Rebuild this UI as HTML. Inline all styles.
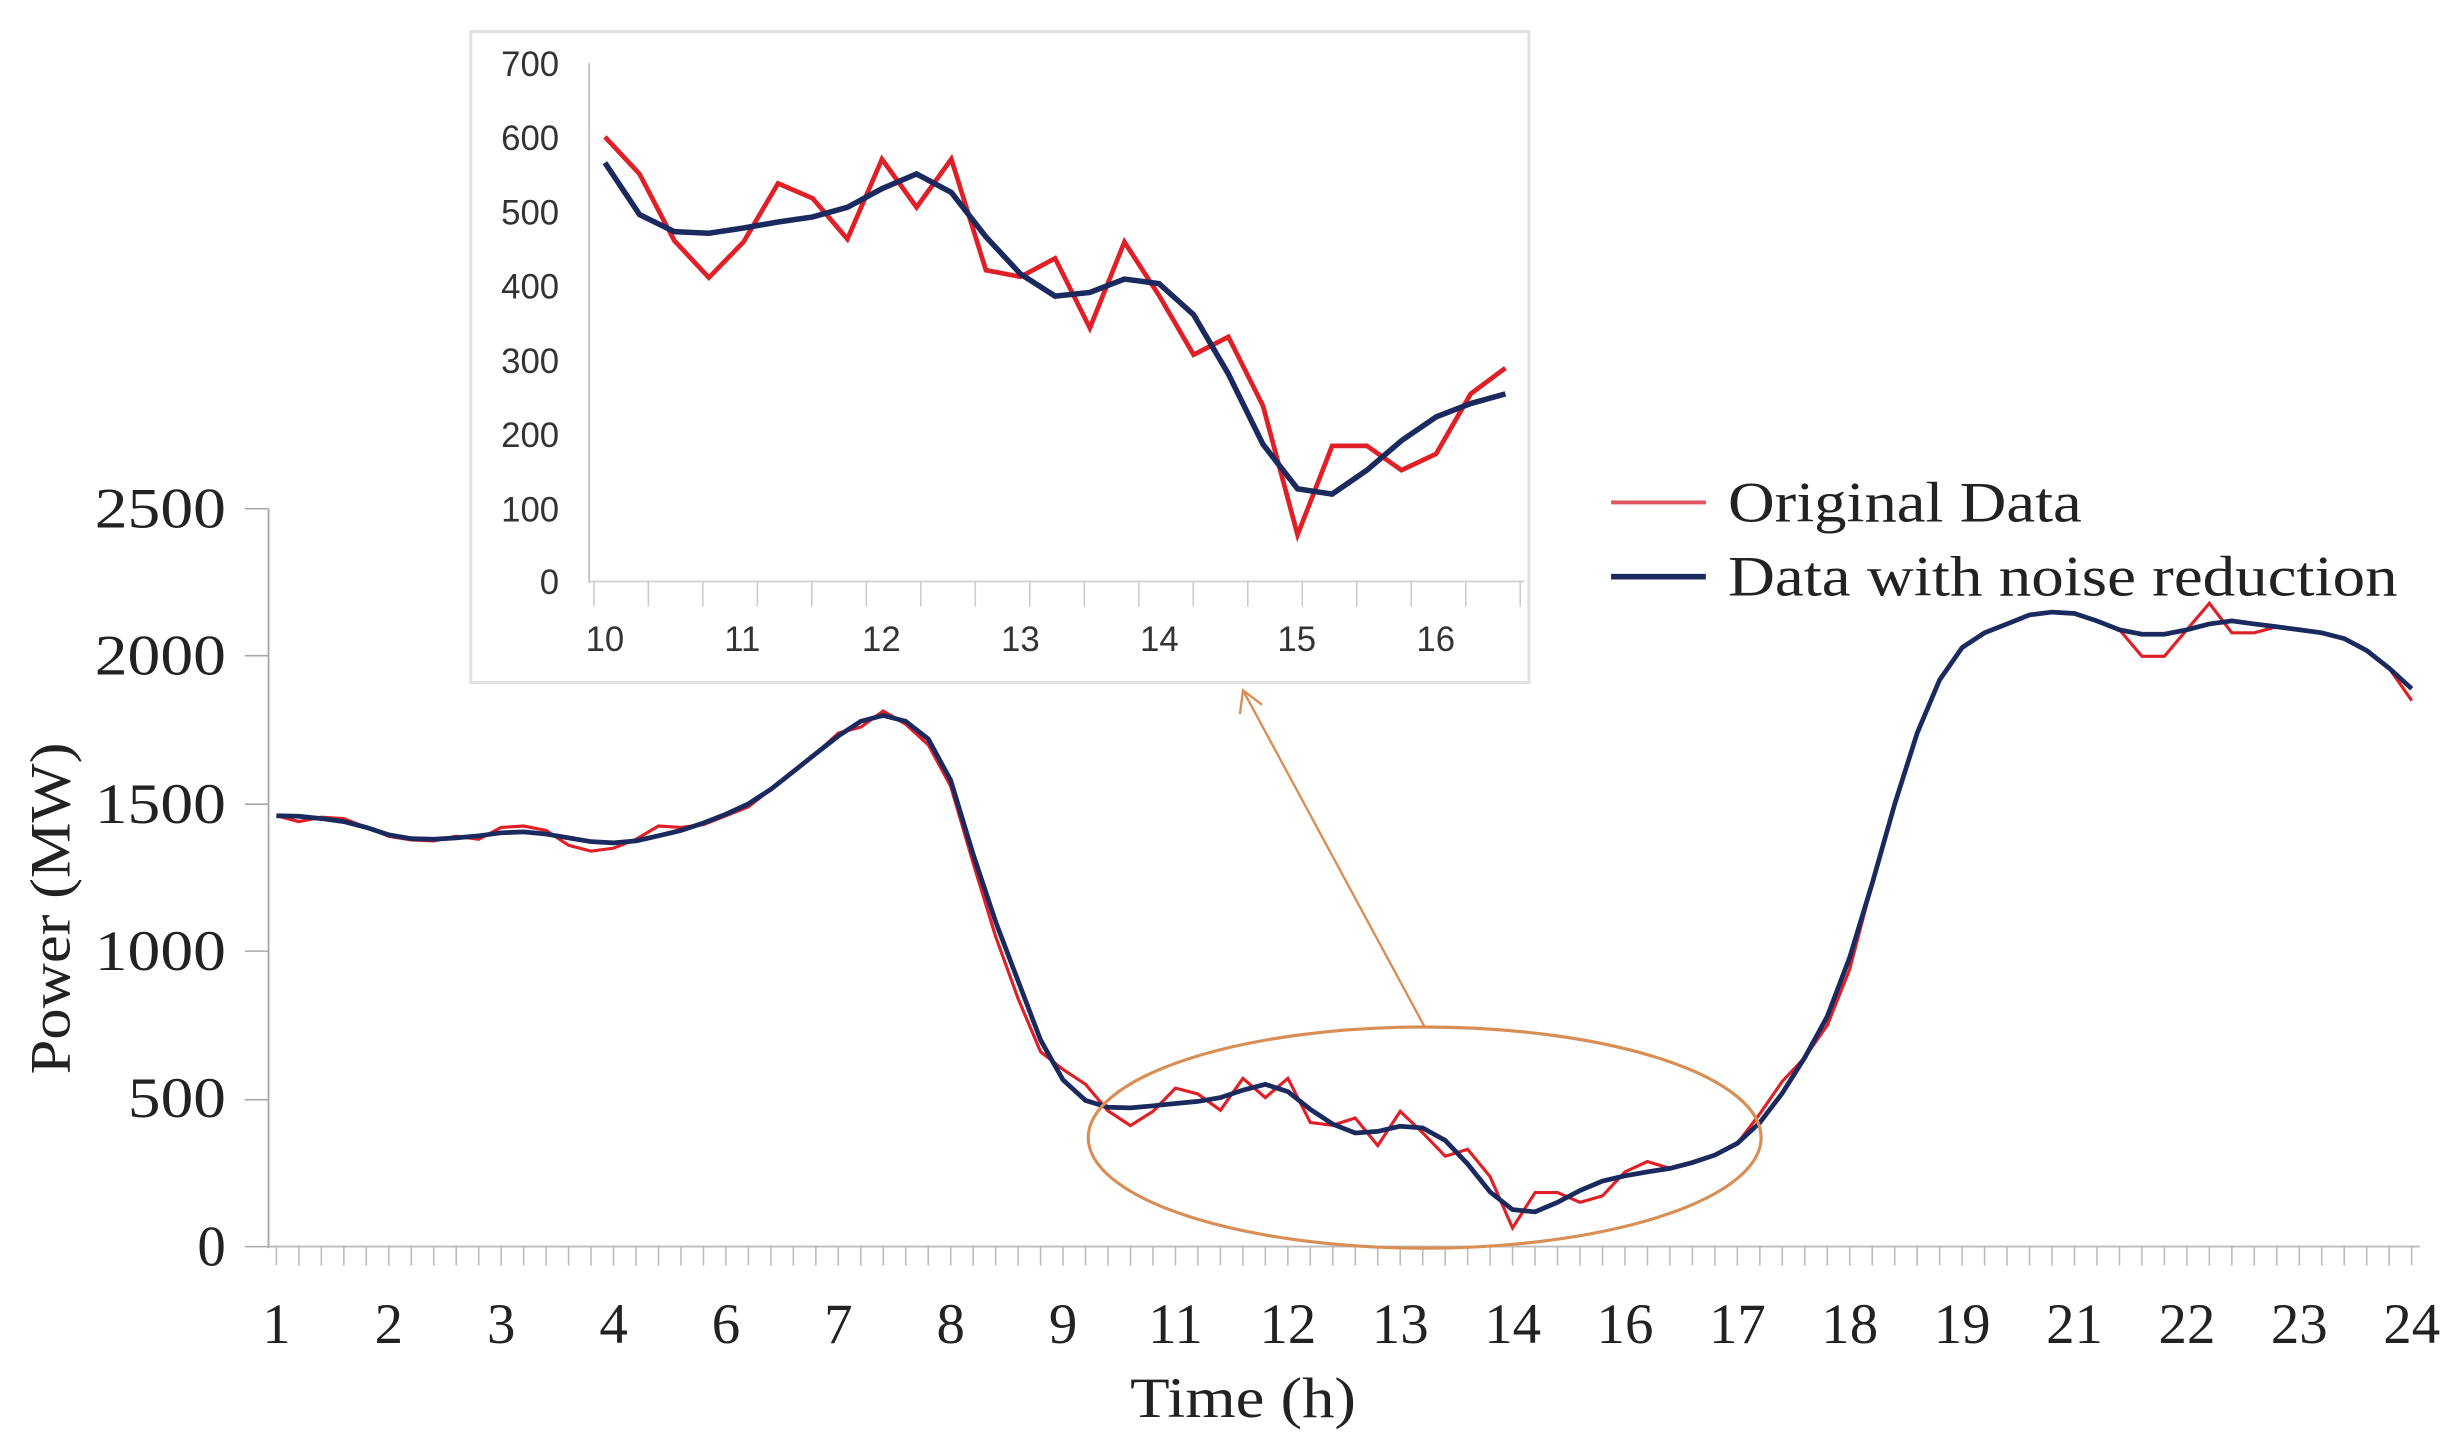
<!DOCTYPE html>
<html><head><meta charset="utf-8"><style>
html,body{margin:0;padding:0;background:#fff;}
svg{display:block;}
.s{font-family:"Liberation Serif",serif;fill:#222;}
.a{font-family:"Liberation Sans",sans-serif;fill:#333;}
</style></head><body>
<svg id="c" width="2464" height="1452" viewBox="0 0 1560 919" preserveAspectRatio="none" xmlns="http://www.w3.org/2000/svg">
<rect width="1560" height="919" fill="#fff"/>
<line x1="170" y1="322" x2="170" y2="790" stroke="#aaa" stroke-width="1.2"/>
<line x1="170" y1="789" x2="1532" y2="789" stroke="#bbb" stroke-width="1.2"/>
<g id="mainticks" stroke="#bbb" stroke-width="1"></g>
<g class="s" font-size="36" text-anchor="end">
<text x="143" y="334" textLength="83" lengthAdjust="spacingAndGlyphs">2500</text>
<text x="143" y="427" textLength="83" lengthAdjust="spacingAndGlyphs">2000</text>
<text x="143" y="521" textLength="83" lengthAdjust="spacingAndGlyphs">1500</text>
<text x="143" y="614" textLength="83" lengthAdjust="spacingAndGlyphs">1000</text>
<text x="143" y="707" textLength="62" lengthAdjust="spacingAndGlyphs">500</text>
<text x="143" y="801">0</text>
</g>
<g stroke="#aaa" stroke-width="1"><line x1="155" y1="322" x2="170" y2="322"/><line x1="155" y1="415" x2="170" y2="415"/><line x1="155" y1="509" x2="170" y2="509"/><line x1="155" y1="602" x2="170" y2="602"/><line x1="155" y1="696" x2="170" y2="696"/><line x1="155" y1="789" x2="170" y2="789"/></g>
<g id="xl" class="s" font-size="36" text-anchor="middle"></g>
<text class="s" font-size="36" text-anchor="middle" textLength="210" lengthAdjust="spacingAndGlyphs" transform="translate(44,575) rotate(-90)">Power (MW)</text>
<text class="s" font-size="36" text-anchor="middle" x="787" y="897" textLength="143" lengthAdjust="spacingAndGlyphs">Time (h)</text>
<path id="mr" fill="none" stroke="#e01f26" stroke-width="2"/>
<path id="mb" fill="none" stroke="#1a2a5e" stroke-width="3"/>
<ellipse cx="902" cy="720" rx="213" ry="70" fill="none" stroke="#d98e55" stroke-width="2"/>
<line x1="902" y1="650" x2="787" y2="437" stroke="#d98e55" stroke-width="1.5"/>
<polyline points="785,452 787,437 799,446" fill="none" stroke="#d98e55" stroke-width="1.5"/>
<line x1="1020" y1="318" x2="1080" y2="318" stroke="#e05560" stroke-width="2.5"/>
<line x1="1020" y1="365" x2="1080" y2="365" stroke="#1a2a5e" stroke-width="3.5"/>
<text class="s" font-size="36" x="1094" y="330" textLength="224" lengthAdjust="spacingAndGlyphs">Original Data</text>
<text class="s" font-size="36" x="1094" y="377" textLength="424" lengthAdjust="spacingAndGlyphs">Data with noise reduction</text>
<rect x="298" y="20" width="670" height="412" fill="#fff" stroke="#e2e2e2" stroke-width="2"/>
<line x1="373" y1="40" x2="373" y2="369" stroke="#bbb" stroke-width="1"/>
<line x1="373" y1="368" x2="965" y2="368" stroke="#ccc" stroke-width="1"/>
<g id="iticks" stroke="#ccc" stroke-width="1"></g>
<g class="a" font-size="22" text-anchor="end">
<text x="354" y="48">700</text><text x="354" y="95">600</text><text x="354" y="142">500</text><text x="354" y="189">400</text>
<text x="354" y="236">300</text><text x="354" y="283">200</text><text x="354" y="330">100</text><text x="354" y="376">0</text>
</g>
<g class="a" font-size="22" text-anchor="middle">
<text x="383" y="412">10</text><text x="470" y="412">11</text><text x="558" y="412">12</text><text x="646" y="412">13</text>
<text x="734" y="412">14</text><text x="821" y="412">15</text><text x="909" y="412">16</text>
</g>
<path id="ir" fill="none" stroke="#e01f26" stroke-width="3"/>
<path id="ib" fill="none" stroke="#1a2a5e" stroke-width="3.5"/>
</svg>
<script>
var insR=[600,550,460,410,458,537,517,462,570,505,570,420,411,436,342,458,386,306,330,237,63,183,183,150,172,253,288];
var insB=[565,495,472,470,477,485,492,505,530,550,525,465,415,385,390,408,402,360,280,185,125,118,150,190,222,240,253];
var preB=[1460,1458,1450,1440,1420,1395,1382,1380,1385,1392,1402,1405,1398,1385,1372,1368,1375,1392,1410,1435,1465,1500,1550,1610,1670,1730,1780,1800,1780,1720,1580,1330,1100,900,700];
var preR=[1460,1440,1455,1450,1420,1390,1378,1375,1390,1380,1420,1425,1410,1360,1340,1350,1380,1425,1420,1430,1460,1490,1550,1610,1670,1740,1760,1815,1770,1700,1560,1300,1050,840,660];
var postB=[265,285,310,350,420,520,640,780,980,1230,1500,1740,1920,2030,2080,2110,2140,2150,2145,2120,2090,2075,2075,2090,2110,2120,2110,2100,2090,2080,2060,2020,1960,1890];
var postR=postB.slice();
postR[4]=450;postR[5]=560;postR[7]=750;postR[8]=940;postR[21]=2000;postR[22]=2000;postR[24]=2180;postR[25]=2080;postR[26]=2080;postR[33]=1850;
var B=preB.concat(insB,postB), R=preR.concat(insR,postR);
function mp(a){var s="";for(var i=0;i<a.length;i++){s+=(i?"L":"M")+(175+i*14.23).toFixed(1)+","+(789-a[i]*0.1868).toFixed(1);}return s;}
function ip(a){var s="";for(var i=0;i<a.length;i++){s+=(i?"L":"M")+(383+i*0.25*87.7).toFixed(1)+","+(368-a[i]*0.469).toFixed(1);}return s;}
document.getElementById("mr").setAttribute("d",mp(R));
document.getElementById("mb").setAttribute("d",mp(B));
document.getElementById("ir").setAttribute("d",ip(insR));
document.getElementById("ib").setAttribute("d",ip(insB));
var NS="http://www.w3.org/2000/svg";
var g=document.getElementById("mainticks");
for(var x=175;x<=1530;x+=14.23){var l=document.createElementNS(NS,"line");l.setAttribute("x1",x);l.setAttribute("x2",x);l.setAttribute("y1",789);l.setAttribute("y2",801);g.appendChild(l);}
var gi=document.getElementById("iticks");
for(var x=376;x<=965;x+=34.5){var l=document.createElementNS(NS,"line");l.setAttribute("x1",x);l.setAttribute("x2",x);l.setAttribute("y1",368);l.setAttribute("y2",384);gi.appendChild(l);}
var labs=["1","2","3","4","6","7","8","9","11","12","13","14","16","17","18","19","21","22","23","24"];
var xl=document.getElementById("xl");
for(var i=0;i<labs.length;i++){var t=document.createElementNS(NS,"text");t.setAttribute("x",(175+i*71.15).toFixed(1));t.setAttribute("y",850);t.textContent=labs[i];xl.appendChild(t);}
</script>
</body></html>
